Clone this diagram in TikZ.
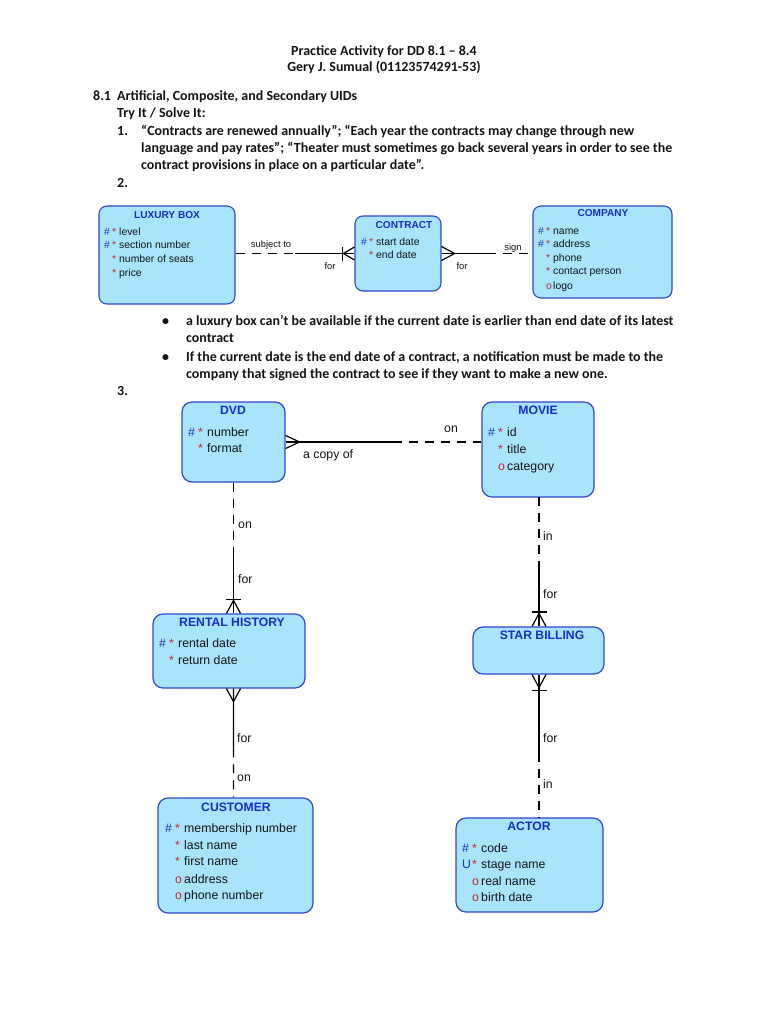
\documentclass[tikz,border=0pt]{standalone}
\usepackage{fontspec}
\setmainfont{Carlito}
\newfontfamily\diag{Liberation Sans}
\usetikzlibrary{calc}
\definecolor{entf}{RGB}{168,228,252}
\definecolor{entb}{RGB}{50,70,210}
\definecolor{ttlc}{RGB}{25,45,205}
\definecolor{hashc}{RGB}{30,50,190}
\definecolor{starc}{RGB}{200,40,40}
\definecolor{txtc}{RGB}{20,20,20}
\newcommand{\Hs}{\textcolor{hashc}{\#}}
\newcommand{\St}{\textcolor{starc}{*}}
\newcommand{\Oo}{\textcolor{starc}{o}}
\newcommand{\Uu}{\textcolor{hashc}{U}}
% small (top) attribute row
\newcommand{\erowS}[5]{\node[attrS] (#1) at (#2) {\makebox[8pt][l]{#3}\makebox[7pt][l]{#4}#5};}
% large (bottom) attribute row
\newcommand{\erowL}[5]{\node[attrL] (#1) at (#2) {\makebox[10pt][l]{#3}\makebox[9pt][l]{#4}#5};}
\tikzset{
  txt/.style={inner sep=0, text=txtc, text height=0.95em, text depth=0.05em},
  body/.style={txt, anchor=west, font=\bfseries\fontsize{13.95}{17}\selectfont},
  bodyc/.style={body, anchor=center},
  entS/.style={draw=entb, fill=entf, rounded corners=8pt, line width=1.1pt, inner sep=0},
  entL/.style={draw=entb, fill=entf, rounded corners=10pt, line width=1.2pt, inner sep=0},
  ttlS/.style={txt, text=ttlc, font=\diag\bfseries\fontsize{10.1}{12}\selectfont},
  ttlL/.style={txt, text=ttlc, font=\diag\bfseries\fontsize{12.2}{14}\selectfont},
  attrS/.style={txt, anchor=west, font=\diag\fontsize{10.4}{12}\selectfont},
  attrL/.style={txt, anchor=west, font=\diag\fontsize{12.3}{14}\selectfont},
  lblS/.style={txt, font=\diag\fontsize{9.4}{11}\selectfont},
  lblL/.style={txt, anchor=west, font=\diag\fontsize{12.3}{14}\selectfont},
  ln/.style={draw=black, line width=1.2pt},
  dsh/.style={draw=black, line width=1.2pt, dash pattern=on 9pt off 7pt},
}
\begin{document}
\begin{tikzpicture}[x=1pt,y=-1pt]
\useasboundingbox[fill=white] (0,0) rectangle (768,1024);

% ---------- header text ----------
\node[bodyc] (h1) at (384,51) {Practice Activity for DD 8.1 -- 8.4};
\node[bodyc] (h2) at (384,67) {Gery J. Sumual (01123574291-53)};
\node[body] (s81) at (93,96) {8.1};
\node[body] (s81t) at (117,96) {Artificial, Composite, and Secondary UIDs};
\node[body] (try) at (117,113) {Try It / Solve It:};
\node[body] (n1) at (117,131) {1.};
\node[body] (n1a) at (141,131) {“Contracts are renewed annually”; “Each year the contracts may change through new};
\node[body] (n1b) at (141,148) {language and pay rates”; “Theater must sometimes go back several years in order to see the};
\node[body] (n1c) at (141,165) {contract provisions in place on a particular date”.};
\node[body] (n2) at (117,183) {2.};

% ---------- top ER diagram ----------
\node[entS, minimum width=136, minimum height=98] (lux) at (167,255) {};
\node[entS, minimum width=86, minimum height=75] (ctr) at (398,253.5) {};
\node[entS, minimum width=139, minimum height=92] (comp) at (602.5,252) {};

\node[ttlS] (luxT) at (167,214) {LUXURY BOX};
\erowS{lx1}{104,231}{\Hs}{\St}{level}
\erowS{lx2}{104,244}{\Hs}{\St}{section number}
\erowS{lx3}{104,258}{}{\St}{number of seats}
\erowS{lx4}{104,272}{}{\St}{price}

\node[ttlS] (ctrT) at (404,224) {CONTRACT};
\erowS{ct1}{361,241}{\Hs}{\St}{start date}
\erowS{ct2}{361,254}{}{\St}{end date}

\node[ttlS] (compT) at (603,212) {COMPANY};
\erowS{cp1}{538,230}{\Hs}{\St}{name}
\erowS{cp2}{538,243}{\Hs}{\St}{address}
\erowS{cp3}{538,257}{}{\St}{phone}
\erowS{cp4}{538,270}{}{\St}{contact person}
\erowS{cp5}{538,285}{}{\Oo}{logo}

% LUXURY BOX -- CONTRACT
\coordinate (a1) at (lux.east |- ctr.west);
\draw[dsh] (a1) -- ($(a1)!0.5!(ctr.west)$);
\draw[ln] ($(a1)!0.5!(ctr.west)$) -- (ctr.west);
\draw[ln] ([yshift=6.5]ctr.west) -- ([xshift=-11]ctr.west) -- ([yshift=-6.5]ctr.west);
\draw[ln] ([xshift=-12,yshift=7]ctr.west) -- ([xshift=-12,yshift=-7]ctr.west);
\node[lblS] (l1) at (271,243) {subject to};
\node[lblS] (l2) at (330,265) {for};

% CONTRACT -- COMPANY
\coordinate (a2) at (comp.west |- ctr.east);
\draw[ln] (ctr.east) -- ($(ctr.east)!0.5!(a2)$);
\draw[dsh] ($(ctr.east)!0.5!(a2)$) -- (a2);
\draw[ln] ([yshift=7]ctr.east) -- ([xshift=13]ctr.east) -- ([yshift=-7]ctr.east);
\node[lblS] (l3) at (462,265) {for};
\node[lblS] (l4) at (513,246) {sign};

% ---------- bullets ----------
\node[body] (b1) at (162,321) {•};
\node[body] (b1a) at (186,321) {a luxury box can’t be available if the current date is earlier than end date of its latest};
\node[body] (b1b) at (186,338) {contract};
\node[body] (b2) at (162,357) {•};
\node[body] (b2a) at (186,357) {If the current date is the end date of a contract, a notification must be made to the};
\node[body] (b2b) at (186,374) {company that signed the contract to see if they want to make a new one.};
\node[body] (n3) at (117,391) {3.};

% ---------- lower ER diagram ----------
\node[entL, minimum width=103, minimum height=80] (dvd) at (233.5,442) {};
\node[entL, minimum width=112, minimum height=95] (movie) at (538,449.5) {};
\node[entL, minimum width=152, minimum height=74] (rh) at (229,651) {};
\node[entL, minimum width=131, minimum height=47] (sb) at (538.5,650.5) {};
\node[entL, minimum width=155, minimum height=115] (cust) at (235.5,855.5) {};
\node[entL, minimum width=147, minimum height=94] (actor) at (529.5,865) {};

\node[ttlL] (dvdT) at (233,410) {DVD};
\erowL{dv1}{188,432}{\Hs}{\St}{number}
\erowL{dv2}{188,448}{}{\St}{format}

\node[ttlL] (movT) at (538,410) {MOVIE};
\erowL{mv1}{488,432}{\Hs}{\St}{id}
\erowL{mv2}{488,449}{}{\St}{title}
\erowL{mv3}{488,466}{}{\Oo}{category}

\node[ttlL] (rhT) at (232,622) {RENTAL HISTORY};
\erowL{rh1}{159,643}{\Hs}{\St}{rental date}
\erowL{rh2}{159,660}{}{\St}{return date}

\node[ttlL] (sbT) at (542,635) {STAR BILLING};

\node[ttlL] (custT) at (236,807) {CUSTOMER};
\erowL{cu1}{165,828}{\Hs}{\St}{membership number}
\erowL{cu2}{165,845}{}{\St}{last name}
\erowL{cu3}{165,861}{}{\St}{first name}
\erowL{cu4}{165,879}{}{\Oo}{address}
\erowL{cu5}{165,895}{}{\Oo}{phone number}

\node[ttlL] (actT) at (529,826) {ACTOR};
\erowL{ac1}{462,848}{\Hs}{\St}{code}
\erowL{ac2}{462,864}{\Uu}{\St}{stage name}
\erowL{ac3}{462,881}{}{\Oo}{real name}
\erowL{ac4}{462,897}{}{\Oo}{birth date}

% DVD -- MOVIE
\coordinate (m1) at (movie.west |- dvd.east);
\draw[ln] (dvd.east) -- ($(dvd.east)!0.55!(m1)$);
\draw[dsh] ($(dvd.east)!0.55!(m1)$) -- (m1);
\draw[ln] ([yshift=6.5]dvd.east) -- ([xshift=14]dvd.east) -- ([yshift=-6.5]dvd.east);
\node[lblL] (l5) at (444,428) {on};
\node[lblL] (l6) at (303,454) {a copy of};

% DVD -- RENTAL HISTORY
\coordinate (d1) at (dvd.south);
\coordinate (d2) at (rh.north -| dvd.south);
\draw[dsh] (d1) -- ($(d1)!0.5!(d2)$);
\draw[ln] ($(d1)!0.5!(d2)$) -- (d2);
\draw[ln] ([xshift=-7]d2) -- ([yshift=13]d2) -- ([xshift=7]d2);
\draw[ln] ([xshift=-7.5,yshift=14]d2) -- ([xshift=7.5,yshift=14]d2);
\node[lblL] (l7) at (238,524) {on};
\node[lblL] (l8) at (238,579) {for};

% RENTAL HISTORY -- CUSTOMER
\coordinate (r1) at (rh.south -| dvd.south);
\coordinate (r2) at (cust.north -| dvd.south);
\draw[ln] (r1) -- ($(r1)!0.55!(r2)$);
\draw[dsh] ($(r1)!0.55!(r2)$) -- (r2);
\draw[ln] ([xshift=-7]r1) -- ([yshift=-13]r1) -- ([xshift=7]r1);
\node[lblL] (l9) at (237,738) {for};
\node[lblL] (l10) at (237,777) {on};

% MOVIE -- STAR BILLING
\coordinate (v1) at (539,497);
\coordinate (v2) at (sb.north -| v1);
\draw[dsh] (v1) -- ($(v1)!0.5!(v2)$);
\draw[ln] ($(v1)!0.5!(v2)$) -- (v2);
\draw[ln] ([xshift=-7]v2) -- ([yshift=13]v2) -- ([xshift=7]v2);
\draw[ln] ([xshift=-7.5,yshift=14.5]v2) -- ([xshift=7.5,yshift=14.5]v2);
\node[lblL] (l11) at (543,536) {in};
\node[lblL] (l12) at (543,594) {for};

% STAR BILLING -- ACTOR
\coordinate (s1) at (sb.south -| v1);
\coordinate (s2) at (actor.north -| v1);
\draw[ln] (s1) -- ($(s1)!0.55!(s2)$);
\draw[dsh] ($(s1)!0.55!(s2)$) -- (s2);
\draw[ln] ([xshift=-7]s1) -- ([yshift=-13]s1) -- ([xshift=7]s1);
\draw[ln] ([xshift=-7.5,yshift=-16]s1) -- ([xshift=7.5,yshift=-16]s1);
\node[lblL] (l13) at (543,738) {for};
\node[lblL] (l14) at (543,784) {in};
\end{tikzpicture}
\end{document}
